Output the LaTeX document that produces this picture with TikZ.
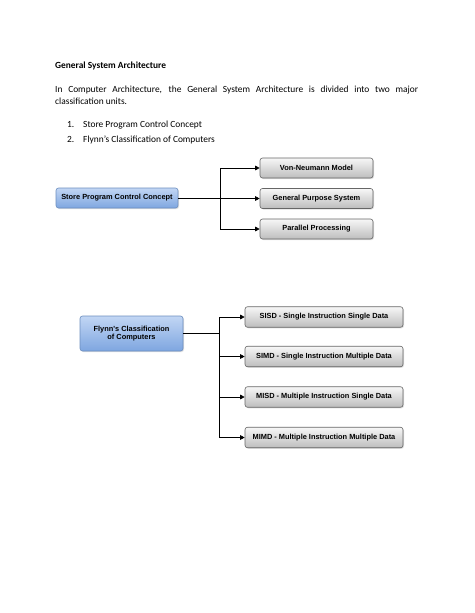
\documentclass[tikz,border=0pt]{standalone}
\usepackage{fontspec}
\setmainfont{Carlito}
\newfontfamily\boxfont{Liberation Sans}
\usetikzlibrary{arrows.meta,shadows}
\definecolor{blueTop}{HTML}{C2D6F4}
\definecolor{blueBot}{HTML}{7EA6E0}
\definecolor{blueLine}{HTML}{6C8EBF}
\definecolor{grayTop}{HTML}{F7F7F7}
\definecolor{grayBot}{HTML}{BDBDBD}
\definecolor{grayLine}{HTML}{666666}
\tikzset{
  bluebox/.style={draw=blueLine, line width=0.6pt, rounded corners=2.5pt,
    top color=blueTop, bottom color=blueBot,
    drop shadow={opacity=0.25, shadow xshift=1pt, shadow yshift=-1pt},
    font=\boxfont\bfseries\fontsize{7.4}{8.8}\selectfont, align=center, inner sep=0pt},
  graybox/.style={draw=grayLine, line width=0.6pt, rounded corners=2.5pt,
    top color=grayTop, bottom color=grayBot,
    drop shadow={opacity=0.25, shadow xshift=1pt, shadow yshift=-1pt},
    font=\boxfont\bfseries\fontsize{7.4}{8.8}\selectfont, align=center, inner sep=0pt},
  conn/.style={line width=0.7pt, black},
  arr/.style={conn, -{Triangle[width=4.5pt,length=4.5pt]}},
  bodytext/.style={anchor=base west, inner sep=0pt, font=\fontsize{9.4}{11}\selectfont}
}
\begin{document}
\begin{tikzpicture}[x=1pt,y=-1pt]
\useasboundingbox (0,0) rectangle (474,613);
\fill[white] (0,0) rectangle (474,613);

% text
\node[bodytext, font=\bfseries\fontsize{9.4}{11}\selectfont] (title) at (55,68) {General System Architecture};
\node[bodytext] (p1) at (55,92) {\makebox[363pt][s]{In Computer Architecture, the General System Architecture is divided into two major}};
\node[bodytext] (p2) at (55,104) {classification units.};
\node[bodytext] (n1) at (67,127) {1.};
\node[bodytext] (l1) at (83,127) {Store Program Control Concept};
\node[bodytext] (n2) at (67,142) {2.};
\node[bodytext] (l2) at (83,142) {Flynn's Classification of Computers};

% first diagram
\node[bluebox, minimum width=122pt, minimum height=20pt] (spc) at (117,198) {Store Program Control Concept};
\node[graybox, minimum width=113pt, minimum height=20pt] (von) at (316.5,168) {Von-Neumann Model};
\node[graybox, minimum width=113pt, minimum height=20pt] (gps) at (316.5,198.5) {General Purpose System};
\node[graybox, minimum width=113pt, minimum height=20pt] (par) at (316.5,229) {Parallel Processing};
\coordinate (fork1) at (220,198.5);
\draw[arr] (spc.east |- gps.west) -- (gps.west);
\draw[arr] (fork1) |- (von.west);
\draw[arr] (fork1) |- (par.west);

% second diagram
\node[bluebox, minimum width=103pt, minimum height=35pt] (fly) at (131.5,333.5) {Flynn's Classification\\of Computers};
\node[graybox, minimum width=158pt, minimum height=20.5pt] (sisd) at (324,317) {SISD - Single Instruction Single Data};
\node[graybox, minimum width=158pt, minimum height=20.5pt] (simd) at (324,356.5) {SIMD - Single Instruction Multiple Data};
\node[graybox, minimum width=158pt, minimum height=20.5pt] (misd) at (324,397) {MISD - Multiple Instruction Single Data};
\node[graybox, minimum width=158pt, minimum height=20.5pt] (mimd) at (324,437.5) {MIMD - Multiple Instruction Multiple Data};
\coordinate (fork2) at (219,333.5);
\draw[conn] (fly.east) -- (fork2);
\draw[arr] (fork2) |- (sisd.west);
\draw[arr] (fork2) |- (simd.west);
\draw[arr] (fork2) |- (misd.west);
\draw[arr] (fork2) |- (mimd.west);
\end{tikzpicture}
\end{document}
